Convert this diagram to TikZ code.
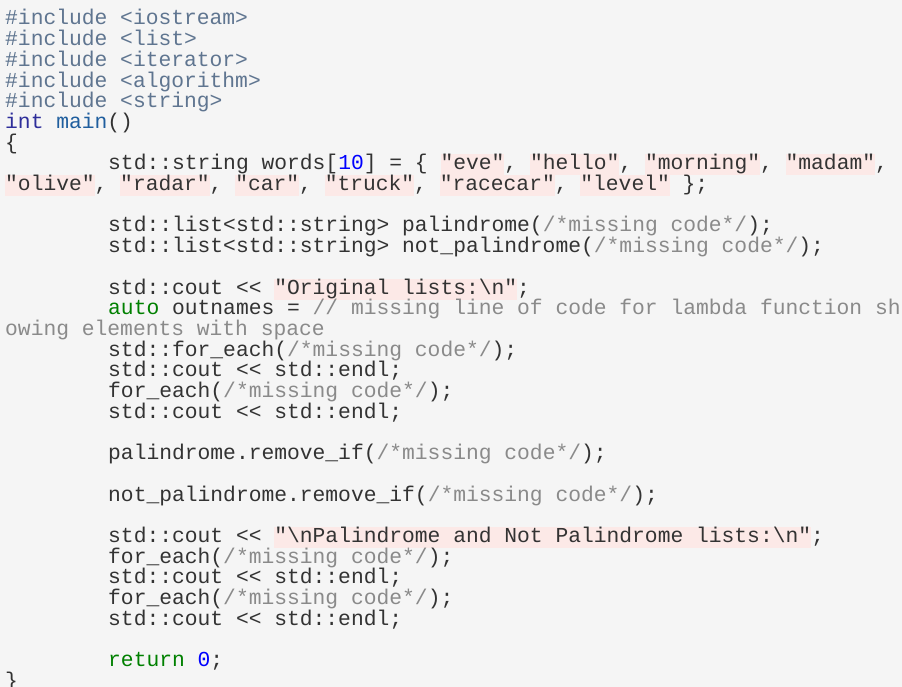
\documentclass[tikz,border=0pt]{standalone}
\usepackage{fontspec}
\setmonofont{Liberation Mono}
\definecolor{bg}{HTML}{F5F5F5}
\definecolor{txt}{HTML}{333333}
\definecolor{inc}{HTML}{5F7590}
\definecolor{kwint}{HTML}{2E2E9A}
\definecolor{fn}{HTML}{1F5E9E}
\definecolor{kwg}{HTML}{008000}
\definecolor{num}{HTML}{0000FF}
\definecolor{cmt}{HTML}{8A8A8A}
\definecolor{strbg}{HTML}{FCE9E7}
\newcommand{\sq}[1]{{\setlength{\fboxsep}{0pt}\colorbox{strbg}{\rule[-5.5pt]{0pt}{20.5pt}#1}}}
\newcommand{\cm}[1]{\textcolor{cmt}{#1}}
\tikzset{codeline/.style={anchor=base west,inner sep=0pt,font=\ttfamily\fontsize{21.3}{21.3}\selectfont,text=txt}}
\newcommand{\Ln}[3]{\node[codeline] (l#1) at (#2pt,{-25pt-20.7pt*(#1-1)}) {#3};}
\begin{document}
\begin{tikzpicture}
\fill[bg] (0,0) rectangle (902pt,-687pt);
\useasboundingbox (0,0) rectangle (902pt,-687pt);
\clip (0,0) rectangle (902pt,-687pt);
\def\A{5}\def\B{108}
\Ln{1}{\A}{\textcolor{inc}{\#include <iostream>}}
\Ln{2}{\A}{\textcolor{inc}{\#include <list>}}
\Ln{3}{\A}{\textcolor{inc}{\#include <iterator>}}
\Ln{4}{\A}{\textcolor{inc}{\#include <algorithm>}}
\Ln{5}{\A}{\textcolor{inc}{\#include <string>}}
\Ln{6}{\A}{\textcolor{kwint}{int} \textcolor{fn}{main}()}
\Ln{7}{\A}{\{}
\Ln{8}{\B}{std::string words[\textcolor{num}{10}] = \{ \sq{"eve"}, \sq{"hello"}, \sq{"morning"}, \sq{"madam"},}
\Ln{9}{\A}{\sq{"olive"}, \sq{"radar"}, \sq{"car"}, \sq{"truck"}, \sq{"racecar"}, \sq{"level"} \};}
\Ln{11}{\B}{std::list<std::string> palindrome(\cm{/*missing code*/});}
\Ln{12}{\B}{std::list<std::string> not\_palindrome(\cm{/*missing code*/});}
\Ln{14}{\B}{std::cout << \sq{"Original lists:\textbackslash n"};}
\Ln{15}{\B}{\textcolor{kwg}{auto} outnames = \cm{// missing line of code for lambda function sh}}
\Ln{16}{\A}{\cm{owing elements with space}}
\Ln{17}{\B}{std::for\_each(\cm{/*missing code*/});}
\Ln{18}{\B}{std::cout << std::endl;}
\Ln{19}{\B}{for\_each(\cm{/*missing code*/});}
\Ln{20}{\B}{std::cout << std::endl;}
\Ln{22}{\B}{palindrome.remove\_if(\cm{/*missing code*/});}
\Ln{24}{\B}{not\_palindrome.remove\_if(\cm{/*missing code*/});}
\Ln{26}{\B}{std::cout << \sq{"\textbackslash nPalindrome and Not Palindrome lists:\textbackslash n"};}
\Ln{27}{\B}{for\_each(\cm{/*missing code*/});}
\Ln{28}{\B}{std::cout << std::endl;}
\Ln{29}{\B}{for\_each(\cm{/*missing code*/});}
\Ln{30}{\B}{std::cout << std::endl;}
\Ln{32}{\B}{\textcolor{kwg}{return} \textcolor{num}{0};}
\Ln{33}{\A}{\}}
\end{tikzpicture}
\end{document}
